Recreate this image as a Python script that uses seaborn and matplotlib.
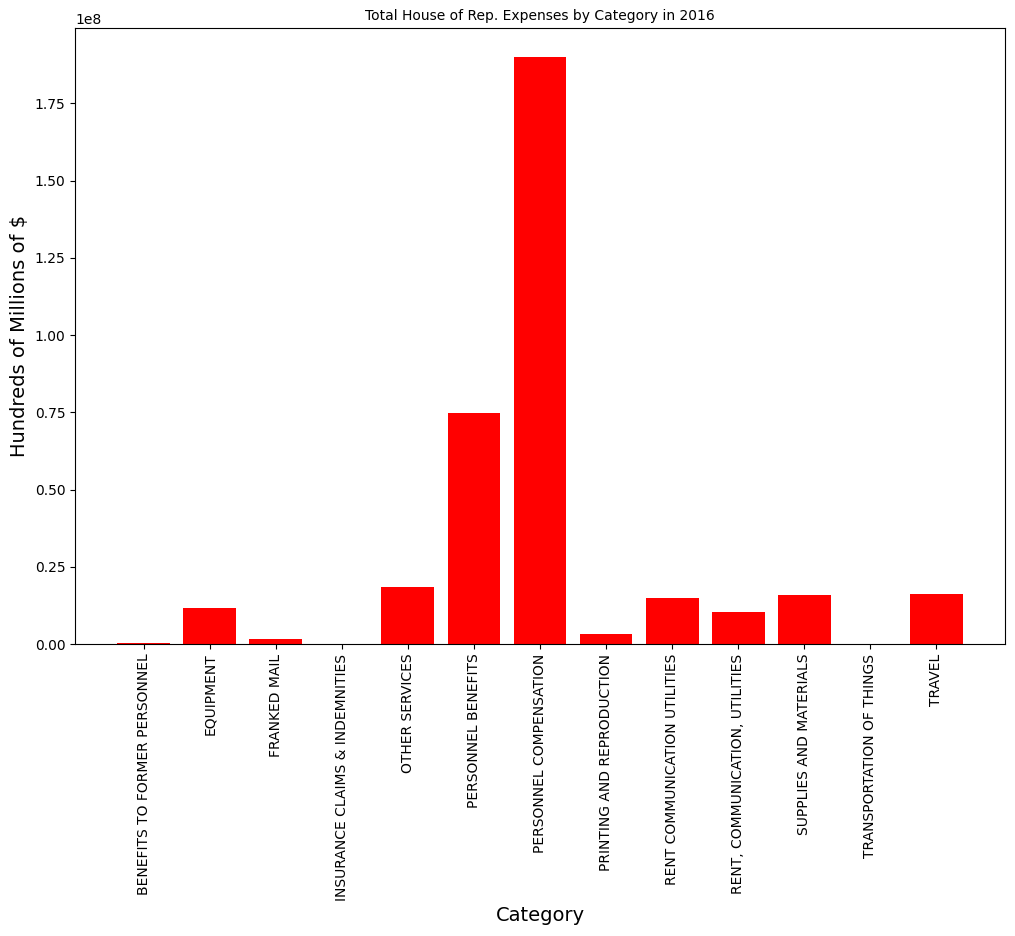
import matplotlib
matplotlib.use("Agg")
import matplotlib.pyplot as plt
import seaborn as sns
import pandas as pd

categories = [
    "BENEFITS TO FORMER PERSONNEL",
    "EQUIPMENT",
    "FRANKED MAIL",
    "INSURANCE CLAIMS & INDEMNITIES",
    "OTHER SERVICES",
    "PERSONNEL BENEFITS",
    "PERSONNEL COMPENSATION",
    "PRINTING AND REPRODUCTION",
    "RENT COMMUNICATION UTILITIES",
    "RENT, COMMUNICATION, UTILITIES",
    "SUPPLIES AND MATERIALS",
    "TRANSPORTATION OF THINGS",
    "TRAVEL",
]
amounts = [
    0.4e6, 11.7e6, 1.6e6, 0.02e6, 18.5e6, 74.9e6, 189.9e6,
    3.2e6, 14.9e6, 10.4e6, 15.9e6, 0.05e6, 16.2e6,
]

df = pd.DataFrame({"Category": categories, "Amount": amounts})

fig = plt.figure(figsize=(10.15, 9.36), dpi=100)
ax = fig.add_axes([75 / 1015, 1 - 644 / 936, 930 / 1015, 616 / 936])

sns.barplot(data=df, x="Category", y="Amount", color="red", saturation=1,
            width=0.8, linewidth=0, edgecolor="none", ax=ax, errorbar=None)

ax.set_title("Total House of Rep. Expenses by Category in 2016", fontsize=10)
ax.set_xlabel("Category", fontsize=14)
ax.set_ylabel("Hundreds of Millions of $", fontsize=14)
ax.tick_params(axis="x", labelrotation=90)
# default matplotlib 5% margins around the bars
n = len(categories)
pad = 0.05 * (n - 1 + 0.8)
ax.set_xlim(-0.4 - pad, n - 1 + 0.4 + pad)

fig.savefig("out.png", dpi=100)
